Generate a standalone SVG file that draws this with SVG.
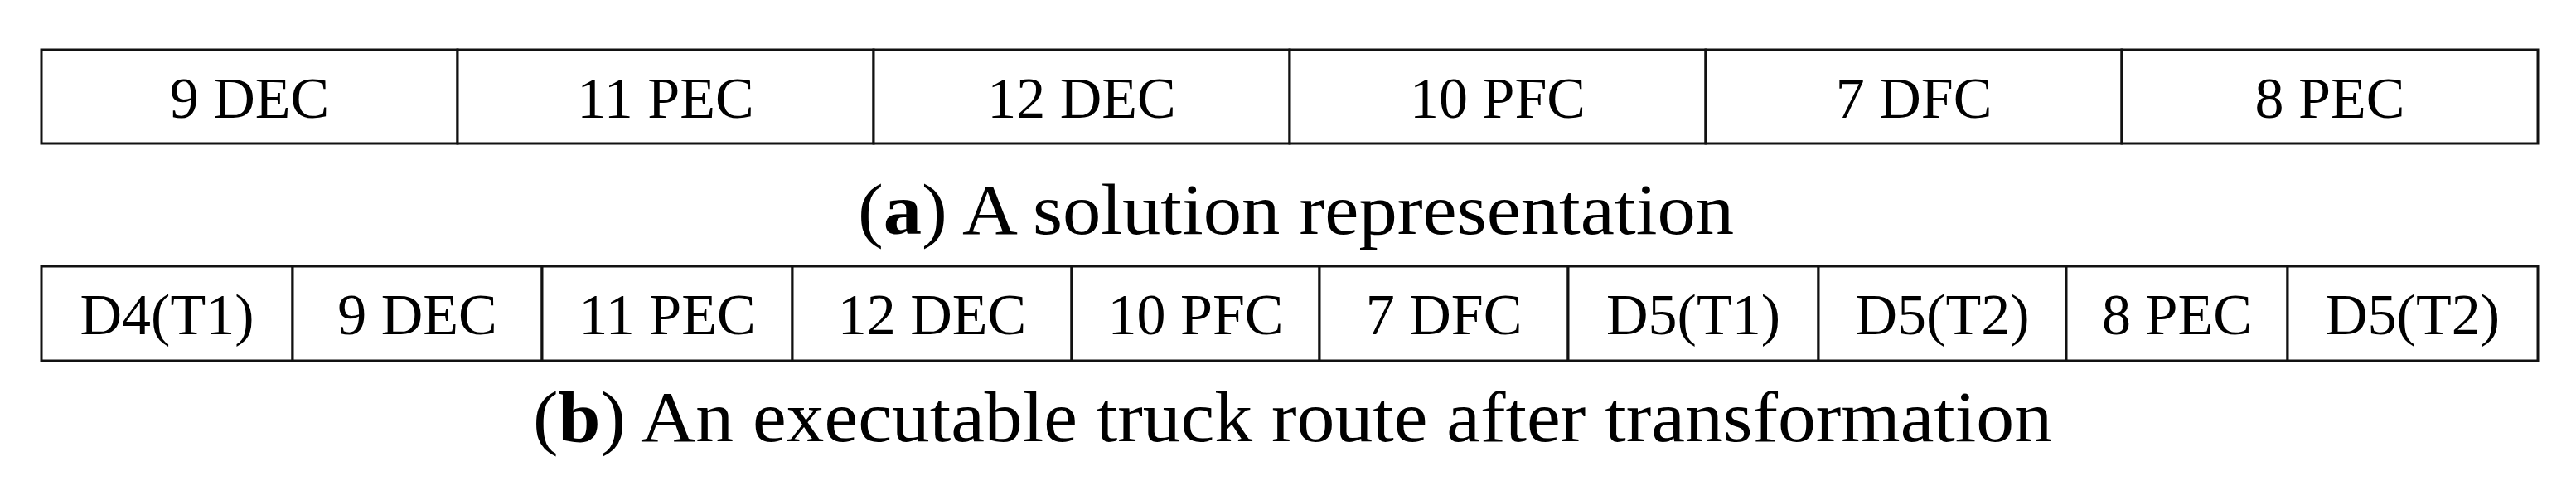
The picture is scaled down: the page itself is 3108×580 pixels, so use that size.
<svg xmlns="http://www.w3.org/2000/svg" width="3108" height="580" viewBox="0 0 3108 580">
<style>
.cell{fill:#fff;stroke:#111;stroke-width:3}
.t{font-family:"Liberation Serif","Times New Roman",serif;font-size:70px;fill:#000;text-anchor:middle}
.cap{font-family:"Liberation Serif","Times New Roman",serif;font-size:86px;fill:#000}
</style>
<rect width="3108" height="580" fill="#fff"/>
<g id="table-a">
<g id="a1"><rect class="cell" x="50" y="60" width="502" height="113"/><text class="t" x="301" y="142">9 DEC</text></g>
<g id="a2"><rect class="cell" x="552" y="60" width="502" height="113"/><text class="t" x="803" y="142">11 PEC</text></g>
<g id="a3"><rect class="cell" x="1054" y="60" width="502" height="113"/><text class="t" x="1305" y="142">12 DEC</text></g>
<g id="a4"><rect class="cell" x="1556" y="60" width="502" height="113"/><text class="t" x="1807" y="142">10 PFC</text></g>
<g id="a5"><rect class="cell" x="2058" y="60" width="502" height="113"/><text class="t" x="2309" y="142">7 DFC</text></g>
<g id="a6"><rect class="cell" x="2560" y="60" width="502" height="113"/><text class="t" x="2811" y="142">8 PEC</text></g>
</g>
<g id="caption-a"><text class="cap" x="1035" y="282" textLength="1057" lengthAdjust="spacingAndGlyphs">(<tspan font-weight="bold">a</tspan>) A solution representation</text></g>
<g id="table-b">
<g id="b1"><rect class="cell" x="50" y="321" width="303" height="114"/><text class="t" x="201.5" y="403">D4(T1)</text></g>
<g id="b2"><rect class="cell" x="353" y="321" width="301" height="114"/><text class="t" x="503.5" y="403">9 DEC</text></g>
<g id="b3"><rect class="cell" x="654" y="321" width="302" height="114"/><text class="t" x="805" y="403">11 PEC</text></g>
<g id="b4"><rect class="cell" x="956" y="321" width="337" height="114"/><text class="t" x="1124.5" y="403">12 DEC</text></g>
<g id="b5"><rect class="cell" x="1293" y="321" width="299" height="114"/><text class="t" x="1442.5" y="403">10 PFC</text></g>
<g id="b6"><rect class="cell" x="1592" y="321" width="300" height="114"/><text class="t" x="1742" y="403">7 DFC</text></g>
<g id="b7"><rect class="cell" x="1892" y="321" width="302" height="114"/><text class="t" x="2043" y="403">D5(T1)</text></g>
<g id="b8"><rect class="cell" x="2194" y="321" width="299" height="114"/><text class="t" x="2343.5" y="403">D5(T2)</text></g>
<g id="b9"><rect class="cell" x="2493" y="321" width="267" height="114"/><text class="t" x="2626.5" y="403">8 PEC</text></g>
<g id="b10"><rect class="cell" x="2760" y="321" width="302" height="114"/><text class="t" x="2911" y="403">D5(T2)</text></g>
</g>
<g id="caption-b"><text class="cap" x="643" y="532" textLength="1833" lengthAdjust="spacingAndGlyphs">(<tspan font-weight="bold">b</tspan>) An executable truck route after transformation</text></g>
<g id="connectors"/>
</svg>
